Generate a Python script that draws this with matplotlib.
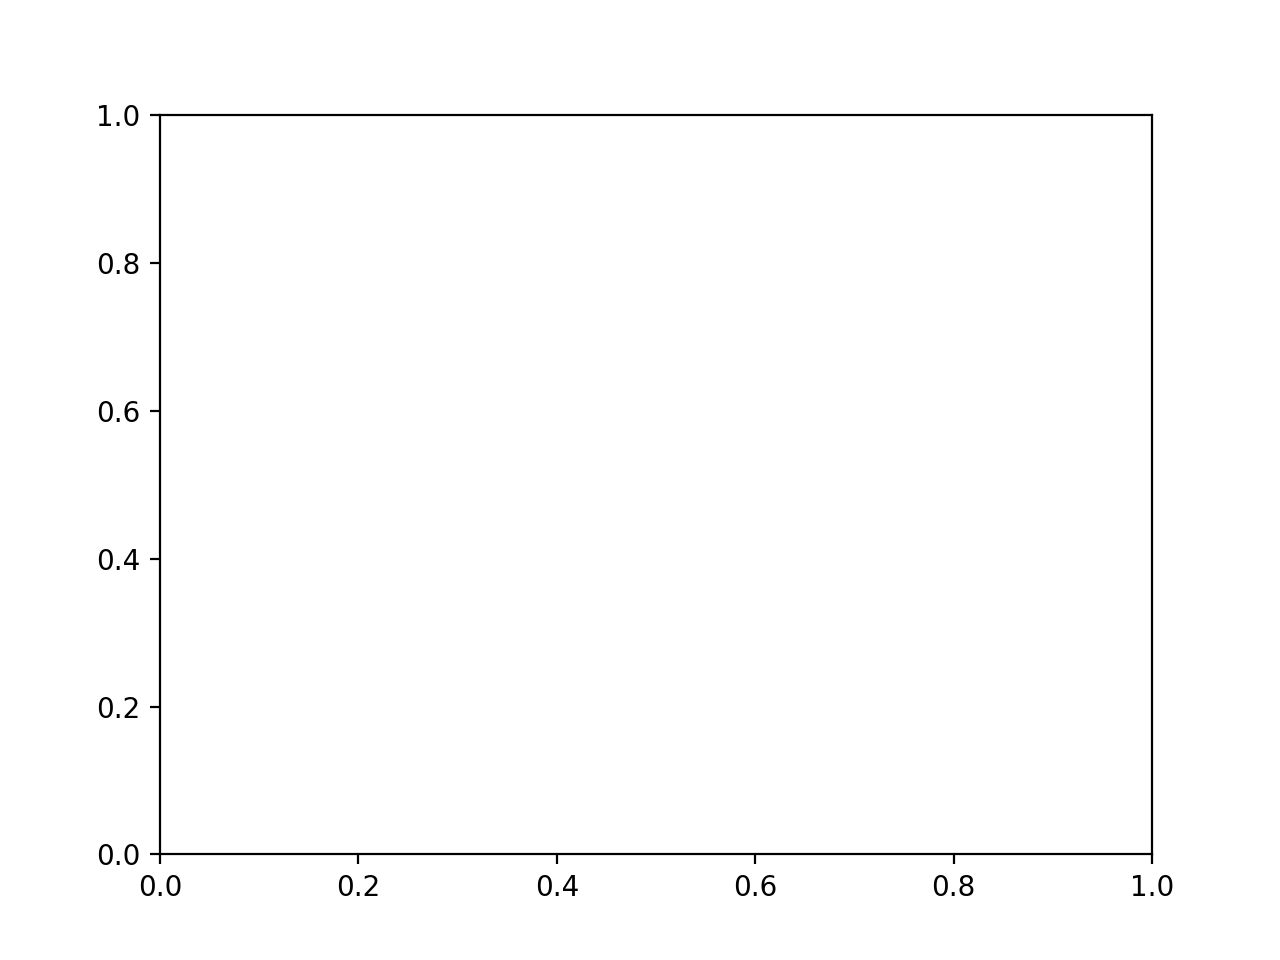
import matplotlib
matplotlib.use("Agg")
from matplotlib import pyplot as plt

# Axis limits and ticks (empty axes)
x_limits = [0.0, 1.0]
y_limits = [0.0, 1.0]
x_ticks = [0.0, 0.2, 0.4, 0.6, 0.8, 1.0]
y_ticks = [0.0, 0.2, 0.4, 0.6, 0.8, 1.0]


def main():
    fig, ax = plt.subplots(figsize=(6.4, 4.8), dpi=200)
    ax.set_xlim(x_limits)
    ax.set_ylim(y_limits)
    ax.set_xticks(x_ticks)
    ax.set_yticks(y_ticks)
    fig.savefig("out.png", dpi=200)


if __name__ == "__main__":
    main()
